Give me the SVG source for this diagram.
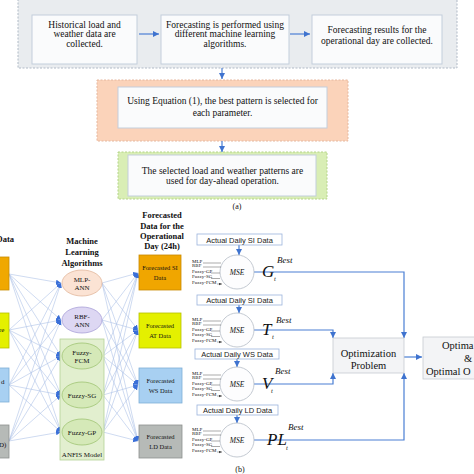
<svg xmlns="http://www.w3.org/2000/svg" width="474" height="474" viewBox="0 0 474 474">
<defs>
<marker id="ah" markerUnits="userSpaceOnUse" markerWidth="7" markerHeight="6" refX="6" refY="3" orient="auto"><path d="M0,0 L6,3 L0,6 z" fill="#3f73cf"/></marker>
<marker id="ahn" markerUnits="userSpaceOnUse" markerWidth="6" markerHeight="6" refX="5" refY="2.5" orient="auto"><path d="M0,0 L5,2.5 L0,5 z" fill="#3a6fd8"/></marker>
<marker id="ahm" markerUnits="userSpaceOnUse" markerWidth="4" markerHeight="4" refX="3.5" refY="1.5" orient="auto"><path d="M0,0 L3.5,1.5 L0,3 z" fill="#444"/></marker>
<style>
.serif{font-family:"Liberation Serif","Times New Roman",serif;fill:#111}
.sans{font-family:"Liberation Sans",Arial,sans-serif;fill:#222}
.t9{font-size:9.5px}
.hd{font-size:8.5px;font-weight:bold}
.wb{fill:#fafbfc;stroke:#c3cedc;stroke-width:1}
.dash{stroke-dasharray:2,1.5;stroke-width:1}
.net{stroke:#aec2e8;stroke-width:0.6;fill:none}
.conn{stroke:#4a7fd4;stroke-width:1.2;fill:none}
.mse{fill:#fdfdfe;stroke:#b5bcc6;stroke-width:0.8}
.act{fill:#fff;stroke:#9bb3dc;stroke-width:0.8}
.ml{font-size:5px}
.mlin{stroke:#555;stroke-width:0.5;fill:none;marker-end:url(#ahm)}
.big{font-family:"Liberation Serif","Times New Roman",serif;font-style:italic;fill:#111}
</style>
</defs>
<rect width="474" height="474" fill="#ffffff"/>

<!-- (a) part -->
<g id="stage1">
<rect x="18" y="-2" width="439" height="70" fill="#e9ecef" stroke="#b0bac6" class="dash"/>
</g>
<g id="historical">
<rect x="32" y="15" width="105" height="49" class="wb"/>
<text class="serif t9" text-anchor="middle" x="84.5" y="27.5">Historical load and</text>
<text class="serif t9" text-anchor="middle" x="84.5" y="37">weather data are</text>
<text class="serif t9" text-anchor="middle" x="84.5" y="46.5">collected.</text>
</g>
<g id="forecasting">
<rect x="161" y="15" width="128" height="49" class="wb"/>
<text class="serif t9" text-anchor="middle" x="225" y="27.5">Forecasting is performed using</text>
<text class="serif t9" text-anchor="middle" x="225" y="37">different machine learning</text>
<text class="serif t9" text-anchor="middle" x="225" y="46.5">algorithms.</text>
</g>
<g id="results">
<rect x="312" y="15" width="130" height="49" class="wb"/>
<text class="serif t9" text-anchor="middle" x="377" y="32.5">Forecasting results for the</text>
<text class="serif t9" text-anchor="middle" x="377" y="43.5">operational day are collected.</text>
</g>
<g id="stage2">
<rect x="97" y="80" width="251" height="61" fill="#fbd3ba" stroke="#e5b79e" class="dash"/>
<rect x="118" y="87" width="209" height="41" class="wb"/>
<text class="serif t9" text-anchor="middle" x="222.5" y="104">Using Equation (1), the best pattern is selected for</text>
<text class="serif t9" text-anchor="middle" x="222.5" y="115.5">each parameter.</text>
</g>
<g id="stage3">
<rect x="118" y="152" width="209" height="47" fill="#d9eeb5" stroke="#b4d488" class="dash"/>
<rect x="128" y="155" width="188" height="41" class="wb"/>
<text class="serif t9" text-anchor="middle" x="222.5" y="174">The selected load and weather patterns are</text>
<text class="serif t9" text-anchor="middle" x="222.5" y="184">used for day-ahead operation.</text>
</g>
<text class="serif" font-size="8" text-anchor="middle" x="237" y="209">(a)</text>

<!-- (b) part headings -->
<text class="serif hd" text-anchor="end" x="14" y="242">Data</text>
<g id="ml-heading">
<text class="serif hd" text-anchor="middle" x="82" y="244">Machine</text>
<text class="serif hd" text-anchor="middle" x="82" y="255">Learning</text>
<text class="serif hd" text-anchor="middle" x="82" y="265.5">Algorithms</text>
</g>
<g id="fc-heading">
<text class="serif hd" text-anchor="middle" x="162" y="218">Forecasted</text>
<text class="serif hd" text-anchor="middle" x="162" y="228.5">Data for the</text>
<text class="serif hd" text-anchor="middle" x="162" y="239">Operational</text>
<text class="serif hd" text-anchor="middle" x="162" y="249">Day (24h)</text>
</g>

<!-- connectors -->
<g id="connectors">
<g class="net" marker-end="url(#ahn)">
<line x1="9" y1="274" x2="61" y2="283"/><line x1="9" y1="274" x2="61" y2="320"/><line x1="9" y1="274" x2="61" y2="356"/><line x1="9" y1="274" x2="61" y2="395"/><line x1="9" y1="274" x2="61" y2="432"/>
<line x1="9" y1="330" x2="61" y2="283"/><line x1="9" y1="330" x2="61" y2="320"/><line x1="9" y1="330" x2="61" y2="356"/><line x1="9" y1="330" x2="61" y2="395"/><line x1="9" y1="330" x2="61" y2="432"/>
<line x1="9" y1="385" x2="61" y2="283"/><line x1="9" y1="385" x2="61" y2="320"/><line x1="9" y1="385" x2="61" y2="356"/><line x1="9" y1="385" x2="61" y2="395"/><line x1="9" y1="385" x2="61" y2="432"/>
<line x1="9" y1="441" x2="61" y2="283"/><line x1="9" y1="441" x2="61" y2="320"/><line x1="9" y1="441" x2="61" y2="356"/><line x1="9" y1="441" x2="61" y2="395"/><line x1="9" y1="441" x2="61" y2="432"/>
<line x1="102" y1="283" x2="138" y2="273"/><line x1="102" y1="283" x2="138" y2="330"/><line x1="102" y1="283" x2="138" y2="385"/><line x1="102" y1="283" x2="138" y2="441"/>
<line x1="102" y1="320" x2="138" y2="273"/><line x1="102" y1="320" x2="138" y2="330"/><line x1="102" y1="320" x2="138" y2="385"/><line x1="102" y1="320" x2="138" y2="441"/>
<line x1="103" y1="356" x2="138" y2="273"/><line x1="103" y1="356" x2="138" y2="330"/><line x1="103" y1="356" x2="138" y2="385"/><line x1="103" y1="356" x2="138" y2="441"/>
<line x1="103" y1="395" x2="138" y2="273"/><line x1="103" y1="395" x2="138" y2="330"/><line x1="103" y1="395" x2="138" y2="385"/><line x1="103" y1="395" x2="138" y2="441"/>
<line x1="103" y1="432" x2="138" y2="273"/><line x1="103" y1="432" x2="138" y2="330"/><line x1="103" y1="432" x2="138" y2="385"/><line x1="103" y1="432" x2="138" y2="441"/>
</g>
<g class="conn" marker-end="url(#ah)">
<line x1="139" y1="34" x2="159" y2="34"/>
<line x1="290" y1="34" x2="310" y2="34"/>
<line x1="222" y1="68" x2="222" y2="79"/>
<line x1="222" y1="141" x2="222" y2="152"/>
<line x1="239" y1="245" x2="239" y2="255"/>
<line x1="239" y1="305" x2="239" y2="313"/>
<line x1="237" y1="358" x2="237" y2="367"/>
<line x1="237" y1="414" x2="237" y2="423"/>
<polyline points="254,272 404,272 404,338"/>
<polyline points="254,330 333,330 333,338"/>
<polyline points="254,384 333,384 333,373"/>
<polyline points="254,440 404,440 404,373"/>
<line x1="404" y1="357" x2="422" y2="357"/>
</g>
</g>

<!-- input boxes (clipped) -->
<g id="in-si"><rect x="-5" y="257" width="14" height="33" fill="#f0a800" stroke="#c88c00" stroke-width="0.8"/></g>
<g id="in-at"><rect x="-5" y="313" width="14" height="35" fill="#e4f000" stroke="#b6c000" stroke-width="0.8"/><text class="serif" font-size="7" x="-1" y="332">re</text></g>
<g id="in-ws"><rect x="-5" y="368" width="14" height="34" fill="#a8d0f2" stroke="#7eaed6" stroke-width="0.8"/><text class="serif" font-size="7" x="1" y="384">d</text></g>
<g id="in-ld"><rect x="-5" y="425" width="14" height="33" fill="#b6bab7" stroke="#8d918e" stroke-width="0.8"/><text class="serif" font-size="7" x="-1" y="447">D)</text></g>

<!-- ML algorithms -->
<g id="anfis">
<rect x="60" y="339" width="44" height="121" fill="#e2efcf" stroke="#b4d296" stroke-width="0.8"/>
<text class="serif" font-size="7" text-anchor="middle" x="82" y="457">ANFIS Model</text>
</g>
<g id="mlp-ann">
<ellipse cx="82" cy="283" rx="20" ry="13" fill="#fbe3d4" stroke="#e2b79c" stroke-width="0.8"/>
<text class="serif" font-size="7" text-anchor="middle" x="82" y="282">MLP-</text>
<text class="serif" font-size="7" text-anchor="middle" x="82" y="290">ANN</text>
</g>
<g id="rbf-ann">
<ellipse cx="82" cy="320" rx="20" ry="13" fill="#ddd7f3" stroke="#aaa1d8" stroke-width="0.8"/>
<text class="serif" font-size="7" text-anchor="middle" x="82" y="319">RBF-</text>
<text class="serif" font-size="7" text-anchor="middle" x="82" y="327">ANN</text>
</g>
<g id="fuzzy-fcm">
<ellipse cx="82" cy="356" rx="20" ry="13" fill="#d5e9b8" stroke="#9fc474" stroke-width="0.8"/>
<text class="serif" font-size="7" text-anchor="middle" x="82" y="355">Fuzzy-</text>
<text class="serif" font-size="7" text-anchor="middle" x="82" y="363">FCM</text>
</g>
<g id="fuzzy-sg">
<ellipse cx="82" cy="395" rx="20" ry="13" fill="#d5e9b8" stroke="#9fc474" stroke-width="0.8"/>
<text class="serif" font-size="7" text-anchor="middle" x="82" y="397.5">Fuzzy-SG</text>
</g>
<g id="fuzzy-gp">
<ellipse cx="82" cy="432" rx="20" ry="13" fill="#d5e9b8" stroke="#9fc474" stroke-width="0.8"/>
<text class="serif" font-size="7" text-anchor="middle" x="82" y="434.5">Fuzzy-GP</text>
</g>

<!-- forecast boxes -->
<g id="fc-si">
<rect x="139" y="255" width="42" height="35" fill="#f0a600" stroke="#c98900" stroke-width="0.8"/>
<text class="serif" font-size="6.5" text-anchor="middle" x="160" y="270">Forecasted SI</text>
<text class="serif" font-size="6.5" text-anchor="middle" x="160" y="280">Data</text>
</g>
<g id="fc-at">
<rect x="139" y="313" width="42" height="35" fill="#e4f000" stroke="#b6c000" stroke-width="0.8"/>
<text class="serif" font-size="6.5" text-anchor="middle" x="160" y="327.5">Forecasted</text>
<text class="serif" font-size="6.5" text-anchor="middle" x="160" y="337.5">AT Data</text>
</g>
<g id="fc-ws">
<rect x="139" y="368" width="43" height="35" fill="#a8d0f2" stroke="#7eaed6" stroke-width="0.8"/>
<text class="serif" font-size="6.5" text-anchor="middle" x="160.5" y="383">Forecasted</text>
<text class="serif" font-size="6.5" text-anchor="middle" x="160.5" y="393">WS Data</text>
</g>
<g id="fc-ld">
<rect x="139" y="425" width="43" height="33" fill="#b6bab7" stroke="#8d918e" stroke-width="0.8"/>
<text class="serif" font-size="6.5" text-anchor="middle" x="160.5" y="439">Forecasted</text>
<text class="serif" font-size="6.5" text-anchor="middle" x="160.5" y="449">LD Data</text>
</g>

<!-- actual data boxes -->
<g id="act-si1"><rect x="197" y="234" width="85" height="11" class="act"/><text class="sans" font-size="7.5" text-anchor="middle" x="239.5" y="242.5">Actual Daily SI Data</text></g>
<g id="act-si2"><rect x="197" y="295" width="85" height="10" class="act"/><text class="sans" font-size="7.5" text-anchor="middle" x="239.5" y="303">Actual Daily SI Data</text></g>
<g id="act-ws"><rect x="195" y="349" width="84" height="10" class="act"/><text class="sans" font-size="7.5" text-anchor="middle" x="237" y="357">Actual Daily WS Data</text></g>
<g id="act-ld"><rect x="197" y="405" width="81" height="10" class="act"/><text class="sans" font-size="7.5" text-anchor="middle" x="237.5" y="413">Actual Daily LD Data</text></g>

<!-- MSE nodes -->
<g id="mse-si">
<circle cx="237" cy="272" r="17" class="mse"/>
<text class="big" font-size="7.5" text-anchor="middle" x="237" y="275">MSE</text>
<g class="serif ml"><text x="192" y="262.5">MLP</text><text x="192" y="266.5">RBF</text><text x="192" y="272.5">Fuzzy-GP</text><text x="192" y="278">Fuzzy-SG</text><text x="192" y="283.5">Fuzzy-FCM</text></g>
<path class="mlin" d="M203,263 H221 M203,267 H221 M211,273 H220 M211,278.5 H220 M217,284 H222"/>
<text class="big" font-size="17" x="262" y="277">G</text><text class="big" font-size="6.5" x="274" y="281">t</text><text class="big" font-size="9" x="277" y="263">Best</text>
</g>
<g id="mse-at">
<circle cx="237" cy="330" r="17" class="mse"/>
<text class="big" font-size="7.5" text-anchor="middle" x="237" y="333">MSE</text>
<g class="serif ml"><text x="192" y="320.5">MLP</text><text x="192" y="324.5">RBF</text><text x="192" y="330.5">Fuzzy-GP</text><text x="192" y="336">Fuzzy-SG</text><text x="192" y="341.5">Fuzzy-FCM</text></g>
<path class="mlin" d="M203,321 H221 M203,325 H221 M211,331 H220 M211,336.5 H220 M217,342 H222"/>
<text class="big" font-size="17" x="262" y="335">T</text><text class="big" font-size="6.5" x="272" y="339">t</text><text class="big" font-size="9" x="276" y="323">Best</text>
</g>
<g id="mse-ws">
<circle cx="237" cy="384" r="17" class="mse"/>
<text class="big" font-size="7.5" text-anchor="middle" x="237" y="387">MSE</text>
<g class="serif ml"><text x="192" y="374.5">MLP</text><text x="192" y="378.5">RBF</text><text x="192" y="384.5">Fuzzy-GP</text><text x="192" y="390">Fuzzy-SG</text><text x="192" y="395.5">Fuzzy-FCM</text></g>
<path class="mlin" d="M203,375 H221 M203,379 H221 M211,385 H220 M211,390.5 H220 M217,396 H222"/>
<text class="big" font-size="17" x="262" y="389">V</text><text class="big" font-size="6.5" x="271" y="393">t</text><text class="big" font-size="9" x="275" y="374">Best</text>
</g>
<g id="mse-ld">
<circle cx="237" cy="440" r="17" class="mse"/>
<text class="big" font-size="7.5" text-anchor="middle" x="237" y="443">MSE</text>
<g class="serif ml"><text x="192" y="430.5">MLP</text><text x="192" y="434.5">RBF</text><text x="192" y="440.5">Fuzzy-GP</text><text x="192" y="446">Fuzzy-SG</text><text x="192" y="451.5">Fuzzy-FCM</text></g>
<path class="mlin" d="M203,431 H221 M203,435 H221 M211,441 H220 M211,446.5 H220 M217,452 H222"/>
<text class="big" font-size="17" x="267" y="445">PL</text><text class="big" font-size="6.5" x="286" y="450">t</text><text class="big" font-size="9" x="288" y="430">Best</text>
</g>

<!-- optimization -->
<g id="optimization">
<rect x="333" y="338" width="71" height="35" fill="#f3f4f6" stroke="#c5cad1" stroke-width="0.8"/>
<text class="serif" font-size="10.5" text-anchor="middle" x="368.5" y="357">Optimization</text>
<text class="serif" font-size="10.5" text-anchor="middle" x="368.5" y="369">Problem</text>
</g>
<g id="optimal">
<rect x="423" y="337" width="70" height="42" fill="#f3f4f6" stroke="#c5cad1" stroke-width="0.8"/>
<text class="serif" font-size="10.5" x="442" y="349">Optima</text>
<text class="serif" font-size="10.5" text-anchor="middle" x="468" y="362">&amp;</text>
<text class="serif" font-size="10.5" x="426" y="375">Optimal O</text>
</g>
<text class="serif" font-size="8" text-anchor="middle" x="240" y="472">(b)</text>
</svg>
